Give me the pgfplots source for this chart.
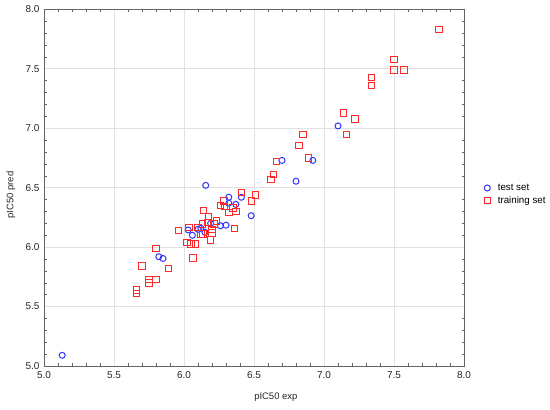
\documentclass[border=0pt]{standalone}
\usepackage{pgfplots}
\pgfplotsset{compat=1.18}
\usepackage{fontspec}
\setmainfont{Liberation Sans}
\definecolor{testblue}{RGB}{50,50,255}
\definecolor{trainred}{RGB}{255,40,40}
\definecolor{framegray}{RGB}{100,100,100}
\definecolor{gridgray}{RGB}{225,225,225}
\begin{document}
\begin{tikzpicture}
\path[use as bounding box] (-44bp,-44bp) rectangle (506bp,366bp);
\begin{axis}[
  scale only axis,
  width=420bp, height=356.5bp,
  xmin=5, xmax=8, ymin=5, ymax=8,
  xtick={5,5.5,...,8}, ytick={5,5.5,...,8},
  minor x tick num=4, minor y tick num=4,
  xticklabel style={/pgf/number format/.cd,fixed,fixed zerofill,precision=1},
  yticklabel style={/pgf/number format/.cd,fixed,fixed zerofill,precision=1},
  /pgf/number format/assume math mode=true,
  tick label style={font=\fontsize{10}{12}\selectfont, text=black!85},
  label style={font=\fontsize{9.5}{11}\selectfont, text=black!85},
  grid=major,
  major grid style={gridgray, line width=0.9pt},
  axis line style={framegray, line width=1pt},
  tick style={framegray, line width=0.6pt},
  major tick length=0pt, minor tick length=2.5bp,
  tick align=inside,
  xlabel={pIC50 exp}, ylabel={pIC50 pred},
  xlabel style={at={(axis description cs:0.552,0)}, anchor=center, yshift=-31bp},
  ylabel style={at={(axis description cs:0,0.48)}, anchor=center, yshift=33bp},
  xticklabel shift=2bp, yticklabel shift=1bp,
  legend style={draw=none, fill=none, at={(1.045,0.481)}, anchor=west,
    font=\fontsize{9.8}{11}\selectfont, row sep=0.5bp, inner sep=1bp},
  legend cell align=left,
  legend image code/.code={\path[draw=none,fill=none] (0bp,0bp) -- (11bp,0bp); \draw plot coordinates {(2.5bp,0bp)};},
]
\addplot[only marks, mark=o, mark size=3bp, color=testblue, line width=1bp,
  mark options={draw=testblue, fill=none}] coordinates {
(5.13,5.09) (5.82,5.92) (5.85,5.905) (6.03,6.145) (6.06,6.10) (6.10,6.15)
(6.15,6.125) (6.12,6.16) (6.19,6.20) (6.26,6.18) (6.30,6.185) (6.155,6.52)
(6.32,6.42) (6.41,6.42) (6.32,6.37) (6.37,6.36) (6.48,6.265) (6.70,6.73)
(6.80,6.555) (6.92,6.73) (7.10,7.02)
};
\addlegendentry{test set}
\addplot[only marks, mark=square, mark size=3.2bp, color=trainred, line width=1bp,
  mark options={draw=trainred, fill=none}] coordinates {
(5.66,5.64) (5.66,5.61) (5.70,5.84) (5.75,5.73) (5.75,5.70) (5.80,5.73)
(5.80,5.99) (5.89,5.82) (5.96,6.14) (6.02,6.04) (6.05,6.025) (6.08,6.025)
(6.065,5.91) (6.035,6.165) (6.10,6.165) (6.12,6.11) (6.13,6.195) (6.135,6.11)
(6.17,6.21) (6.14,6.31) (6.175,6.26) (6.20,6.15) (6.20,6.12) (6.19,6.06)
(6.23,6.22) (6.215,6.195) (6.26,6.35) (6.285,6.39) (6.29,6.34) (6.32,6.29)
(6.35,6.33) (6.37,6.30) (6.36,6.155) (6.41,6.46) (6.51,6.44) (6.48,6.39)
(6.62,6.57) (6.64,6.61) (6.66,6.72) (6.82,6.855) (6.85,6.95) (6.89,6.75)
(7.14,7.13) (7.16,6.95) (7.22,7.08) (7.34,7.43) (7.34,7.36) (7.50,7.58)
(7.50,7.49) (7.57,7.49) (7.82,7.83)
};
\addlegendentry{training set}
\end{axis}
\end{tikzpicture}
\end{document}
